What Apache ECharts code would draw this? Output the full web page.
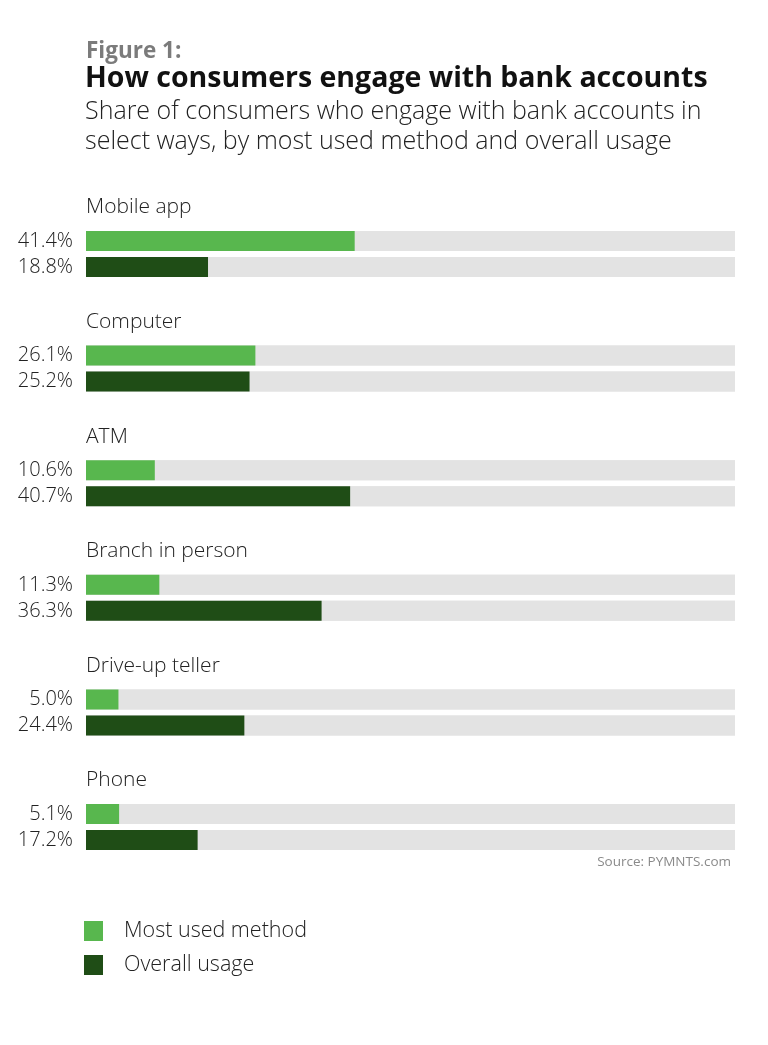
<!DOCTYPE html>
<html>
<head>
<meta charset="utf-8">
<script src="https://cdn.jsdelivr.net/npm/echarts@6/dist/echarts.min.js"></script>
<style>
  html, body { margin: 0; padding: 0; background: #fff; }
  #chart { width: 768px; height: 1045px; }
</style>
</head>
<body>
<div id="chart"></div>
<script>
const categories = ["Mobile app", "Computer", "ATM", "Branch in person", "Drive-up teller", "Phone"];
const mostUsed = [41.4, 26.1, 10.6, 11.3, 5.0, 5.1];
const overall = [18.8, 25.2, 40.7, 36.3, 24.4, 17.2];
const seriesNames = ["Most used method", "Overall usage"];

const LIGHT = "#58b74e";
const DARK = "#1f4d16";
const TRACK = "#e3e3e3";
const FONT = "Open Sans";

const chart = echarts.init(document.getElementById("chart"));

const gridTop = 228;
const step = 114.6;

const grids = [], xAxes = [], yAxes = [], series = [], titles = [];

titles.push(
  { text: "Figure 1:", left: 86, top: 40, padding: 0, textStyle: { fontFamily: FONT, fontWeight: "bold", fontSize: 22.5, color: "#7b7b7b" } },
  { text: "How consumers engage with bank accounts", left: 85, top: 64, padding: 0, textStyle: { fontFamily: FONT, fontWeight: "bold", fontSize: 28.5, color: "#111" } },
  { text: "Share of consumers who engage with bank accounts in\nselect ways, by most used method and overall usage", left: 85, top: 97, padding: 0,
    textStyle: { fontFamily: FONT, fontWeight: 300, fontSize: 25, lineHeight: 30, color: "#222" } }
);

const valueLabel = {
  show: true,
  position: "left",
  distance: 13,
  fontFamily: FONT,
  fontWeight: 300,
  fontSize: 20,
  color: "#222",
  formatter: p => p.value.toFixed(1) + "%"
};

categories.forEach((cat, i) => {
  const top = gridTop + i * step;
  grids.push({ left: 86, width: 649, top: top, height: 52 });
  xAxes.push({ gridIndex: i, type: "value", min: 0, max: 100, show: false });
  yAxes.push({ gridIndex: i, type: "category", inverse: true, data: ["m", "o"], show: false });
  titles.push({
    text: cat, left: 86, top: top - 31, padding: 0,
    textStyle: { fontFamily: FONT, fontWeight: 300, fontSize: 21, color: "#222" }
  });
  series.push({
    name: seriesNames[0], type: "bar", xAxisIndex: i, yAxisIndex: i,
    barWidth: 20, barGap: "-100%",
    showBackground: true, backgroundStyle: { color: TRACK },
    itemStyle: { color: LIGHT },
    label: valueLabel,
    data: [mostUsed[i], "-"]
  });
  series.push({
    name: seriesNames[1], type: "bar", xAxisIndex: i, yAxisIndex: i,
    barWidth: 20, barGap: "-100%",
    showBackground: true, backgroundStyle: { color: TRACK },
    itemStyle: { color: DARK },
    label: valueLabel,
    data: ["-", overall[i]]
  });
});

titles.push({
  text: "Source: PYMNTS.com", right: 37, top: 855, padding: 0,
  textStyle: { fontFamily: FONT, fontWeight: "normal", fontSize: 13.5, color: "#8a8a8a" }
});

chart.setOption({
  animation: false,
  title: titles,
  grid: grids,
  xAxis: xAxes,
  yAxis: yAxes,
  legend: {
    orient: "vertical",
    left: 84, top: 920, padding: 0,
    itemWidth: 19, itemHeight: 20, itemGap: 12,
    icon: "rect",
    data: seriesNames,
    textStyle: { fontFamily: FONT, fontWeight: 300, fontSize: 21.5, color: "#222", padding: [0, 0, 0, 16] }
  },
  series: series
});
</script>
</body>
</html>
